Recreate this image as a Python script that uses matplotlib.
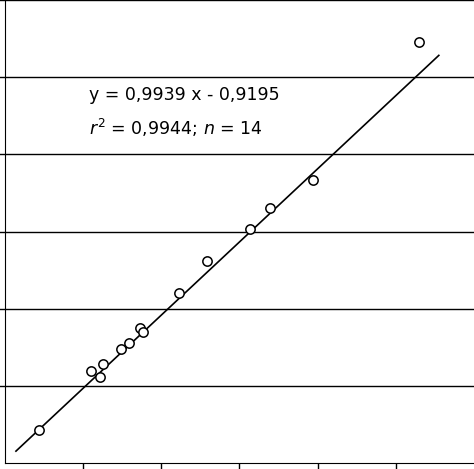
import numpy as np
import matplotlib.pyplot as plt

x_vals = [0.44, 1.10, 1.21, 1.26, 1.49, 1.58, 1.73, 1.77, 2.23, 2.58, 3.14, 3.39, 3.94, 5.30]
y_vals = [0.43, 1.19, 1.11, 1.28, 1.48, 1.55, 1.75, 1.70, 2.20, 2.62, 3.03, 3.30, 3.67, 5.45]
fit_slope = 0.948
fit_icpt = 0.021
fit_range = [0.14, 5.55]
eq_text = "y = 0,9939 x - 0,9195"

fig = plt.figure(figsize=(4.74, 4.69), dpi=100)
ax = fig.add_axes([5/474, 6/469, 1 - 5/474, 1 - 6/469])

xl = np.array(fit_range)
ax.plot(xl, fit_slope * xl + fit_icpt, color="black", lw=1.2, zorder=3)
ax.scatter(x_vals, y_vals, s=45, facecolors="white", edgecolors="black", linewidths=1.1, zorder=4)

ax.set_xlim(0, 6)
ax.set_ylim(0, 6)
ax.set_xticks([1, 2, 3, 4, 5])
ax.set_yticks([1, 2, 3, 4, 5, 6])
ax.set_xticklabels([])
ax.set_yticklabels([])
ax.tick_params(direction="out", length=5, width=1)
ax.yaxis.grid(True, color="black", lw=1)
ax.spines["top"].set_visible(False)
ax.spines["right"].set_visible(False)

ax.text(1.07, 4.7, eq_text, fontsize=12.5)
ax.text(1.07, 4.25, r"$r^2$ = 0,9944; $n$ = 14", fontsize=12.5)

fig.savefig("out.png")
